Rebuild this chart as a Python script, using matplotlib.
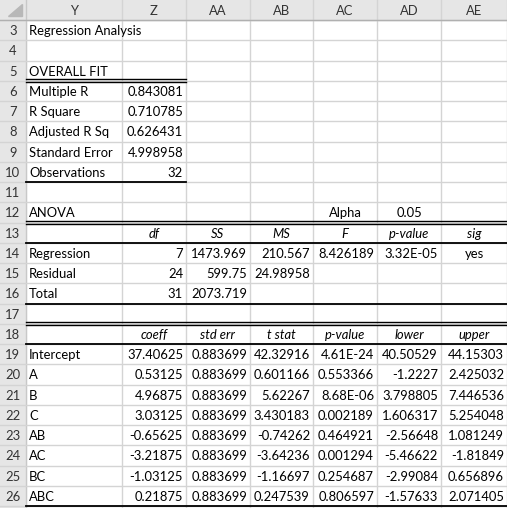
import matplotlib
matplotlib.use("Agg")
import matplotlib.pyplot as plt
from matplotlib.patches import Rectangle, Polygon

plt.rcParams['font.family'] = ['Lato', 'DejaVu Sans']

col_letters = ["Y", "Z", "AA", "AB", "AC", "AD", "AE"]
first_row = 3
n_rows = 24

fit_labels = ["Multiple R", "R Square", "Adjusted R Sq", "Standard Error", "Observations"]
fit_values = ["0.843081", "0.710785", "0.626431", "4.998958", "32"]

anova_header = ["df", "SS", "MS", "F", "p-value", "sig"]
anova_labels = ["Regression", "Residual", "Total"]
anova_values = [["7", "1473.969", "210.567", "8.426189", "3.32E-05", "yes"],
                ["24", "599.75", "24.98958", "", "", ""],
                ["31", "2073.719", "", "", "", ""]]
alpha_label, alpha_value = "Alpha", "0.05"

coef_header = ["coeff", "std err", "t stat", "p-value", "lower", "upper"]
coef_labels = ["Intercept", "A", "B", "C", "AB", "AC", "BC", "ABC"]
coef_values = [
    ["37.40625", "0.883699", "42.32916", "4.61E-24", "40.50529", "44.15303"],
    ["0.53125", "0.883699", "0.601166", "0.553366", "-1.2227", "2.425032"],
    ["4.96875", "0.883699", "5.62267", "8.68E-06", "3.798805", "7.446536"],
    ["3.03125", "0.883699", "3.430183", "0.002189", "1.606317", "5.254048"],
    ["-0.65625", "0.883699", "-0.74262", "0.464921", "-2.56648", "1.081249"],
    ["-3.21875", "0.883699", "-3.64236", "0.001294", "-5.46622", "-1.81849"],
    ["-1.03125", "0.883699", "-1.16697", "0.254687", "-2.99084", "0.656896"],
    ["0.21875", "0.883699", "0.247539", "0.806597", "-1.57633", "2.071405"],
]

W, H = 507, 508
fig = plt.figure(figsize=(W / 100, H / 100), dpi=100)
ax = fig.add_axes([0, 0, 1, 1])
ax.set_xlim(0, W)
ax.set_ylim(H, 0)
ax.axis('off')

xe = [0, 26, 122, 186, 250, 313, 377, 441, 507]
hdr_h = 20
rh = 20.25
def ytop(r):
    return hdr_h + (r - first_row) * rh

grid = '#d4d4d4'
hdr_bg = '#e6e6e6'
fs = 9.4

ax.add_patch(Rectangle((0, 0), W, hdr_h, color=hdr_bg, zorder=0))
ax.add_patch(Rectangle((0, 0), xe[1], H, color=hdr_bg, zorder=0))
ax.add_patch(Polygon([[xe[1] - 4, 4], [xe[1] - 4, hdr_h - 4], [8, hdr_h - 4]], color='#b8b8b8', zorder=1))
for i, c in enumerate(col_letters):
    ax.text((xe[i + 1] + xe[i + 2]) / 2, hdr_h / 2 + 1, c, ha='center', va='center', fontsize=fs, color='#333333')
for k in range(n_rows):
    r = first_row + k
    ax.text(xe[1] / 2, ytop(r) + rh / 2 + 1, str(r), ha='center', va='center', fontsize=fs, color='#333333')

for x in xe[1:]:
    ax.plot([x, x], [0, H], color='#c8c8c8' if x == xe[1] else grid, lw=1, zorder=1)
for k in range(n_rows + 1):
    y = ytop(first_row + k)
    ax.plot([0, W], [y, y], color=grid, lw=1, zorder=1)
ax.plot([0, W], [hdr_h, hdr_h], color='#b0b0b0', lw=1, zorder=1)

def cell(r, c, s, ha='left', style='normal'):
    x0, x1 = xe[c + 1], xe[c + 2]
    x = {'left': x0 + 3, 'right': x1 - 3, 'center': (x0 + x1) / 2}[ha]
    ax.text(x, ytop(r) + rh / 2 + 1, s, ha=ha, va='center', fontsize=fs, style=style, color='black', zorder=3)

def hline(r, c0, c1, double=False):
    y = ytop(r)
    if double:
        for d in (-1.5, 1.5):
            ax.plot([xe[c0 + 1], xe[c1 + 2]], [y + d, y + d], color='black', lw=1, zorder=2)
    else:
        ax.plot([xe[c0 + 1], xe[c1 + 2]], [y, y], color='black', lw=1.3, zorder=2)

cell(3, 0, "Regression Analysis")
cell(5, 0, "OVERALL FIT")
for i, (l, v) in enumerate(zip(fit_labels, fit_values)):
    cell(6 + i, 0, l)
    cell(6 + i, 1, v, 'right')
hline(6, 0, 1, True)
hline(11, 0, 1)

cell(12, 0, "ANOVA")
cell(12, 4, alpha_label, 'center')
cell(12, 5, alpha_value, 'center')
hline(13, 0, 6, True)
for j, h in enumerate(anova_header):
    cell(13, 1 + j, h, 'center', 'italic')
hline(14, 0, 6)
for i, l in enumerate(anova_labels):
    cell(14 + i, 0, l)
    for j, v in enumerate(anova_values[i]):
        cell(14 + i, 1 + j, v, 'center' if j == 5 else 'right')
hline(17, 0, 6)

hline(18, 0, 6, True)
for j, h in enumerate(coef_header):
    cell(18, 1 + j, h, 'center', 'italic')
hline(19, 0, 6)
for i, l in enumerate(coef_labels):
    cell(19 + i, 0, l)
    for j, v in enumerate(coef_values[i]):
        cell(19 + i, 1 + j, v, 'right')
hline(27, 0, 6)

fig.savefig("out.png", dpi=100, facecolor='white')
